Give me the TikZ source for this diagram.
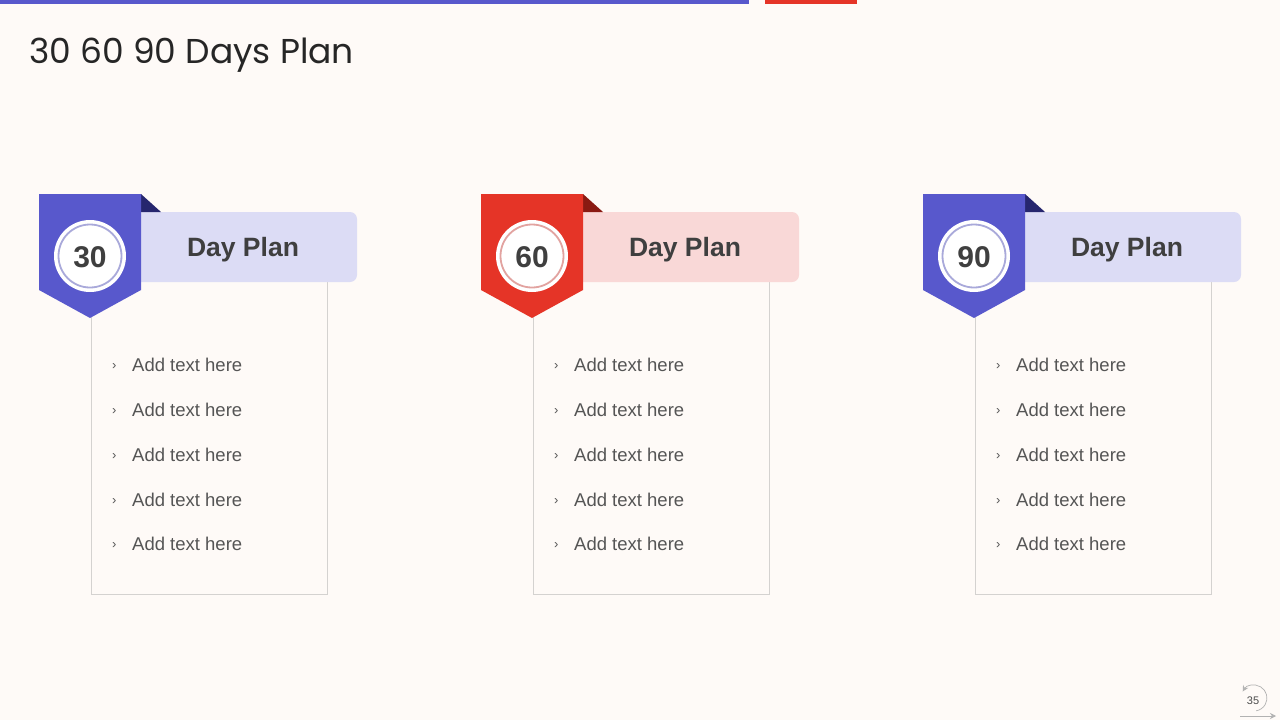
\documentclass[tikz,border=0pt]{standalone}
\usepackage{fontspec}
\setmainfont{Liberation Sans}
\newfontfamily\titlefont{Poppins}
\usetikzlibrary{arrows.meta}
\definecolor{bg}{HTML}{FEFAF7}
\definecolor{bluec}{HTML}{5858CC}
\definecolor{bluedark}{HTML}{26266E}
\definecolor{bluelight}{HTML}{DCDCF5}
\definecolor{bluering}{HTML}{A9A9DA}
\definecolor{redc}{HTML}{E53427}
\definecolor{reddark}{HTML}{8A1A12}
\definecolor{redlight}{HTML}{F9D8D7}
\definecolor{redring}{HTML}{E2A3A0}
\definecolor{txt}{HTML}{3F3F3F}
\definecolor{bodytxt}{HTML}{555555}
\definecolor{boxline}{HTML}{D4D2D0}
\tikzset{
  bodybox/.style={draw=boxline, line width=0.9pt, fill=bg},
  itemtext/.style={anchor=west, inner sep=0pt, text=bodytxt, font=\fontsize{18.5}{20}\selectfont},
  bulletmark/.style={anchor=west, inner sep=0pt, text=bodytxt, font=\fontsize{13}{14}\selectfont},
  headtext/.style={inner sep=0pt, text=txt, font=\fontsize{26.5}{28}\selectfont\bfseries},
  numtext/.style={inner sep=0pt, text=txt, font=\fontsize{30}{32}\selectfont\bfseries},
  pageicon/.style={black!30, line width=0.7pt},
}
\begin{document}
\begin{tikzpicture}[x=1pt,y=-1pt]
\fill[bg] (0,0) rectangle (1280,720);
\useasboundingbox (0,0) rectangle (1280,720);
% top bars
\fill[bluec] (0,0) rectangle (749,4);
\fill[redc] (765,0) rectangle (857,4);
% title
\node[anchor=west, inner sep=0pt, text=black!85, font=\titlefont\fontsize{34.5}{37}\selectfont] (title) at (29,55) {30 60 90 Days Plan};
% cards
\foreach \dx/\num/\main/\dark/\light/\ring/\id in {0/30/bluec/bluedark/bluelight/bluering/a, 442/60/redc/reddark/redlight/redring/b, 884/90/bluec/bluedark/bluelight/bluering/c}{
  \begin{scope}[xshift=\dx pt]
    \draw[bodybox] (91,270) rectangle (327,594);
    \fill[\light, rounded corners=7pt] (125,212) rectangle (357,282);
    \fill[\dark] (141,194) -- (161,212) -- (141,212) -- cycle;
    \fill[\main] (39,194) -- (141,194) -- (141,290) -- (90,318) -- (39,290) -- cycle;
    \fill[white] (90,256) circle (36);
    \draw[\ring, line width=1.8pt] (90,256) circle (31.5);
    \node[numtext] (num\id) at (90,257) {\num};
    \node[headtext] (head\id) at (243,250) {Day Plan};
    \foreach \yy [count=\k] in {365,410,455,500,544}{
      \node[bulletmark] (bul\id\k) at (112,\yy+2) {›};
      \node[itemtext] (item\id\k) at (132,\yy) {Add text here};
    }
  \end{scope}
}
% page number
\node[inner sep=0pt, text=black!70, font=\fontsize{11}{12}\selectfont] (pg) at (1253,701) {35};
\draw[pageicon, {Stealth[length=6pt,width=6pt]}-] (1242.7,691.5) arc (-150:80:13);
\draw[pageicon, -{Stealth[length=6pt,width=6pt]}] (1240,716) -- (1276,716);
\end{tikzpicture}
\end{document}
